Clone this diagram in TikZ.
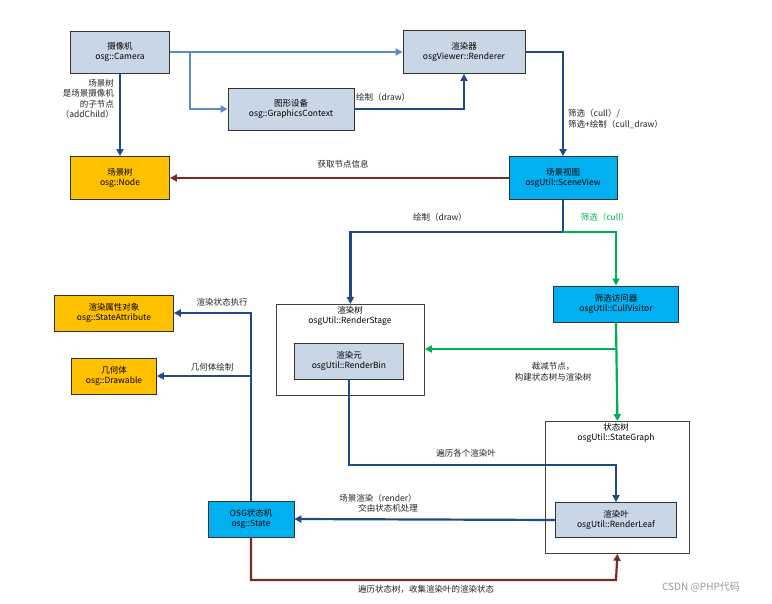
\documentclass[tikz,border=0pt]{standalone}
\usepackage{fontspec}
\setmainfont{Noto Sans CJK SC}
\usetikzlibrary{arrows.meta}
\definecolor{lb}{HTML}{C9D6E6}
\definecolor{org}{HTML}{FFC000}
\definecolor{cy}{HTML}{00B0F0}
\definecolor{elb}{HTML}{5B8CC7}
\definecolor{edb}{HTML}{1F4A87}
\definecolor{egr}{HTML}{00B050}
\definecolor{erd}{HTML}{7B2C22}
\definecolor{txt}{HTML}{222222}
\begin{document}
\begin{tikzpicture}[x=1pt,y=-1pt,
  font=\fontsize{8.5}{10.5}\selectfont,
  box/.style={draw=black!80,line width=0.8pt,align=center,inner sep=0pt,text=black},
  lbx/.style={box,fill=lb},
  obx/.style={box,fill=org},
  cbx/.style={box,fill=cy},
  wbx/.style={draw=black!75,line width=0.8pt,fill=white},
  e/.style={line width=2.2pt,-{Triangle[length=7pt,width=7pt]}},
  ln/.style={line width=2.2pt},
  lab/.style={text=txt,align=center,inner sep=0pt}]
\useasboundingbox (0,0) rectangle (772,604);
% nodes
\node[lbx,minimum width=99pt,minimum height=42pt] (cam) at (120,52) {摄像机\\osg::Camera};
\node[lbx,minimum width=126pt,minimum height=42pt] (gc) at (291,109) {图形设备\\osg::GraphicsContext};
\node[lbx,minimum width=122pt,minimum height=43pt] (ren) at (464,52) {渲染器\\osgViewer::Renderer};
\node[obx,minimum width=99pt,minimum height=43pt] (node) at (120,178) {场景树\\osg::Node};
\node[cbx,minimum width=108pt,minimum height=43pt] (sv) at (563,178) {场景视图\\osgUtil::SceneView};
\node[obx,minimum width=119pt,minimum height=36pt] (sa) at (114,313) {渲染属性对象\\osg::StateAttribute};
\node[obx,minimum width=85pt,minimum height=36pt] (dr) at (114,376) {几何体\\osg::Drawable};
\node[wbx,minimum width=148pt,minimum height=91pt,anchor=north west] (rs) at (276,304) {};
\node[lab,anchor=north,text=black] (rst) at (350,306) {渲染树\\osgUtil::RenderStage};
\node[lbx,minimum width=109pt,minimum height=36pt] (rb) at (349,361) {渲染元\\osgUtil::RenderBin};
\node[cbx,minimum width=125pt,minimum height=36pt] (cv) at (616,304) {筛选访问器\\osgUtil::CullVisitor};
\node[wbx,minimum width=144pt,minimum height=132pt,anchor=north west] (sg) at (545,421) {};
\node[lab,anchor=north,text=black] (sgt) at (616,423) {状态树\\osgUtil::StateGraph};
\node[lbx,minimum width=121pt,minimum height=35pt] (rl) at (616,520) {渲染叶\\osgUtil::RenderLeaf};
\node[cbx,minimum width=86pt,minimum height=36pt] (st) at (251,519) {OSG状态机\\osg::State};
% coordinates
\coordinate (c1) at (190,52);
\coordinate (c2) at (563,232);
\coordinate (c3) at (616,349);
\coordinate (c4) at (251,376);
% edges
\draw[e,elb] (cam.east) -- (ren.west);
\draw[e,elb] (c1) |- (gc.west);
\draw[e,edb] (gc.east) -| (ren.south);
\draw[e,edb] (cam.south) -- (node.north);
\draw[e,edb] (ren.east) -| (sv.north);
\draw[e,erd] (sv.west) -- (node.east);
\draw[e,edb] (sv.south) -- (c2) -| (rs.north);
\draw[e,egr] (c2) -| (cv.north);
\draw[e,egr] (cv.south) -- (sg.north);
\draw[e,egr] (c3) -- (rs.east |- c3);
\draw[e,edb] (rb.south) |- (616,465) -- (rl.north);
\draw[e,edb] (rl.west) -- (st.east);
\draw[e,edb] (st.north) |- (sa.east);
\draw[e,edb] (c4) -- (dr.east);
\draw[e,erd] (st.south) |- (616,580) -- (sg.south);
% labels
\node[lab,anchor=north east,align=right] (l1) at (114,79) {场景树\\是场景摄像机\\的子节点\\（addChild）};
\node[lab,anchor=west] (l2) at (356,97) {绘制（draw）};
\node[lab,anchor=west,align=left] (l3) at (568,119) {筛选（cull）/\\筛选+绘制（cull\_draw）};
\node[lab] (l4) at (343,164) {获取节点信息};
\node[lab] (l5) at (440,217) {绘制（draw）};
\node[lab,text=egr] (l6) at (605,217) {筛选（cull）};
\node[lab] (l7) at (553,372) {裁减节点，\\构建状态树与渲染树};
\node[lab] (l8) at (466,453) {遍历各个渲染叶};
\node[lab] (l9) at (378,503) {场景渲染（render）\\\hspace*{20pt}交由状态机处理};
\node[lab] (l10) at (222,302) {渲染状态执行};
\node[lab] (l11) at (212,367) {几何体绘制};
\node[lab] (l12) at (426,589) {遍历状态树，收集渲染叶的渲染状态};
\node[lab,text=black!40,font=\fontsize{10}{12}\selectfont] (wm) at (701,587) {CSDN @PHP代码};
\end{tikzpicture}
\end{document}
